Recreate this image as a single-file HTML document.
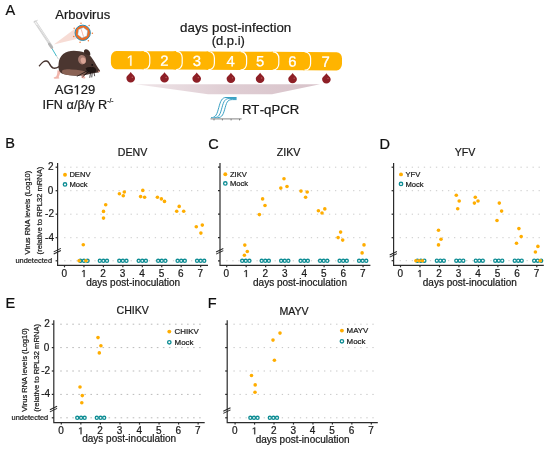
<!DOCTYPE html><html><head><meta charset="utf-8"><title>Figure</title>
<style>html,body{margin:0;padding:0;background:#fff;}svg{display:block;will-change:transform;}text{font-family:"Liberation Sans",sans-serif;}</style></head><body>
<svg width="550" height="450" viewBox="0 0 550 450" font-family="Liberation Sans, sans-serif">
<rect width="550" height="450" fill="#fff"/>
<text x="5.6" y="14.8" font-size="14.5" fill="#111" stroke="#111" stroke-width="0.22">A</text>
<text x="82.7" y="19.4" font-size="13" text-anchor="middle" fill="#1a1a1a" stroke="#1a1a1a" stroke-width="0.22">Arbovirus</text>
<text x="54.77" y="94.3" font-size="13" fill="#1a1a1a" stroke="#1a1a1a" stroke-width="0.22">AG</text>
<path d="M76.82 94.3 L76.82 86.45 L74.8 87.89 L74.8 86.81 L76.91 85.36 L77.97 85.36 L77.97 94.3Z" fill="#1a1a1a" stroke="#1a1a1a" stroke-width="0.22"/>
<text x="80.78" y="94.3" font-size="13" fill="#1a1a1a" stroke="#1a1a1a" stroke-width="0.22">29</text>
<text x="42.6" y="108.5" font-size="12.7" fill="#1a1a1a" stroke="#1a1a1a" stroke-width="0.22">IFN &#945;/&#946;/&#947; R<tspan font-size="6.4" dy="-5.4">-/-</tspan></text>
<text x="180.1" y="31.7" font-size="13.2" textLength="111.2" lengthAdjust="spacingAndGlyphs" fill="#1a1a1a" stroke="#1a1a1a" stroke-width="0.22">days post-infection</text>
<text x="228.3" y="45" font-size="13" text-anchor="middle" fill="#1a1a1a" stroke="#1a1a1a" stroke-width="0.22">(d.p.i)</text>
<defs><linearGradient id="fg" x1="0" y1="0" x2="1" y2="0"><stop offset="0" stop-color="#efe5e8"/><stop offset="0.5" stop-color="#dfcdd3"/><stop offset="1" stop-color="#d8c3ca"/></linearGradient></defs>
<polygon points="136,84.3 320,84.3 272,94.3 208,94.3" fill="url(#fg)"/>
<g transform="rotate(0.3 111 60)">
<rect x="298.6" y="51.0" width="43.4" height="18.2" rx="5.4" ry="6.4" fill="#FFB400"/>
<rect x="266.8" y="51.0" width="43.8" height="18.2" rx="5.4" ry="6.4" fill="#FFB400"/>
<path d="M305.2 50.5 V51 A5.4 6.4 0 0 1 310.6 57.4 V62.8 A5.4 6.4 0 0 1 305.2 69.2 V69.7" fill="none" stroke="#fff" stroke-width="1.2"/>
<rect x="234.6" y="51.0" width="44.2" height="18.2" rx="5.4" ry="6.4" fill="#FFB400"/>
<path d="M273.4 50.5 V51 A5.4 6.4 0 0 1 278.8 57.4 V62.8 A5.4 6.4 0 0 1 273.4 69.2 V69.7" fill="none" stroke="#fff" stroke-width="1.2"/>
<rect x="202.4" y="51.0" width="44.2" height="18.2" rx="5.4" ry="6.4" fill="#FFB400"/>
<path d="M241.2 50.5 V51 A5.4 6.4 0 0 1 246.6 57.4 V62.8 A5.4 6.4 0 0 1 241.2 69.2 V69.7" fill="none" stroke="#fff" stroke-width="1.2"/>
<rect x="170.2" y="51.0" width="44.2" height="18.2" rx="5.4" ry="6.4" fill="#FFB400"/>
<path d="M209 50.5 V51 A5.4 6.4 0 0 1 214.4 57.4 V62.8 A5.4 6.4 0 0 1 209 69.2 V69.7" fill="none" stroke="#fff" stroke-width="1.2"/>
<rect x="137.8" y="51.0" width="44.4" height="18.2" rx="5.4" ry="6.4" fill="#FFB400"/>
<path d="M176.8 50.5 V51 A5.4 6.4 0 0 1 182.2 57.4 V62.8 A5.4 6.4 0 0 1 176.8 69.2 V69.7" fill="none" stroke="#fff" stroke-width="1.2"/>
<rect x="110.9" y="51.0" width="38.9" height="18.2" rx="5.4" ry="6.4" fill="#FFB400"/>
<path d="M144.4 50.5 V51 A5.4 6.4 0 0 1 149.8 57.4 V62.8 A5.4 6.4 0 0 1 144.4 69.2 V69.7" fill="none" stroke="#fff" stroke-width="1.2"/>
<path d="M130.21 65.6 L130.21 56.66 L127.91 58.3 L127.91 57.07 L130.31 55.42 L131.51 55.42 L131.51 65.6Z" fill="#fff" stroke="#fff" stroke-width="0.22"/>
<text x="164.5" y="65.6" font-size="14.8" text-anchor="middle" fill="#fff" stroke="#fff" stroke-width="0.3">2</text>
<text x="196.8" y="65.6" font-size="14.8" text-anchor="middle" fill="#fff" stroke="#fff" stroke-width="0.3">3</text>
<text x="230.7" y="65.6" font-size="14.8" text-anchor="middle" fill="#fff" stroke="#fff" stroke-width="0.3">4</text>
<text x="260.1" y="65.6" font-size="14.8" text-anchor="middle" fill="#fff" stroke="#fff" stroke-width="0.3">5</text>
<text x="292.4" y="65.6" font-size="14.8" text-anchor="middle" fill="#fff" stroke="#fff" stroke-width="0.3">6</text>
<text x="325.6" y="65.6" font-size="14.8" text-anchor="middle" fill="#fff" stroke="#fff" stroke-width="0.3">7</text>
<path d="M130.8 72.0 C131.4 73.6 135.10000000000002 75.6 135.10000000000002 78.0 A4.3 4.3 0 0 1 126.5 78.0 C126.5 75.6 130.2 73.6 130.8 72.0Z" fill="#8E1F26"/>
<circle cx="132.4" cy="77.2" r="0.7" fill="#c77" opacity="0.7"/>
<path d="M164.6 72.0 C165.2 73.6 168.9 75.6 168.9 78.0 A4.3 4.3 0 0 1 160.3 78.0 C160.3 75.6 164 73.6 164.6 72.0Z" fill="#8E1F26"/>
<circle cx="166.2" cy="77.2" r="0.7" fill="#c77" opacity="0.7"/>
<path d="M196.8 72.0 C197.4 73.6 201.10000000000002 75.6 201.10000000000002 78.0 A4.3 4.3 0 0 1 192.5 78.0 C192.5 75.6 196.2 73.6 196.8 72.0Z" fill="#8E1F26"/>
<circle cx="198.4" cy="77.2" r="0.7" fill="#c77" opacity="0.7"/>
<path d="M231.0 72.0 C231.6 73.6 235.3 75.6 235.3 78.0 A4.3 4.3 0 0 1 226.7 78.0 C226.7 75.6 230.4 73.6 231.0 72.0Z" fill="#8E1F26"/>
<circle cx="232.6" cy="77.2" r="0.7" fill="#c77" opacity="0.7"/>
<path d="M260.2 72.0 C260.8 73.6 264.5 75.6 264.5 78.0 A4.3 4.3 0 0 1 255.9 78.0 C255.9 75.6 259.6 73.6 260.2 72.0Z" fill="#8E1F26"/>
<circle cx="261.8" cy="77.2" r="0.7" fill="#c77" opacity="0.7"/>
<path d="M292.7 72.0 C293.3 73.6 297.0 75.6 297.0 78.0 A4.3 4.3 0 0 1 288.4 78.0 C288.4 75.6 292.1 73.6 292.7 72.0Z" fill="#8E1F26"/>
<circle cx="294.3" cy="77.2" r="0.7" fill="#c77" opacity="0.7"/>
<path d="M326.5 72.0 C327.1 73.6 330.8 75.6 330.8 78.0 A4.3 4.3 0 0 1 322.2 78.0 C322.2 75.6 325.9 73.6 326.5 72.0Z" fill="#8E1F26"/>
<circle cx="328.1" cy="77.2" r="0.7" fill="#c77" opacity="0.7"/>
</g>
<g fill="none" stroke="#2F9BC0" stroke-width="0.95">
<path d="M211 117.7 C216 117.7 217 114 218.8 107.5 C220.5 101 222 97.5 226 97.5 H236.6"/>
<path d="M214.2 117.7 C219.2 117.7 220.2 114 222 107.5 C223.7 101 225.2 98.55 229.2 98.55 H236.6"/>
<path d="M217.4 117.7 C222.4 117.7 223.4 114 225.2 107.5 C226.9 101 228.4 99.6 232.4 99.6 H236.6"/>
</g>
<path d="M210.5 118.9 H241.6 M214 118.9 v1.5 M222.4 118.9 v1.5 M231.1 118.9 v1.5 M239.5 118.9 v1.5" stroke="#666" stroke-width="0.8" fill="none"/>
<text x="242.0" y="114.3" font-size="13.2" fill="#1a1a1a" stroke="#1a1a1a" stroke-width="0.22">RT<tspan dx="1.1">-qPCR</tspan></text>
<g stroke-linecap="round">
<line x1="35.2" y1="21.8" x2="51.4" y2="46.2" stroke="#d3d3d3" stroke-width="2.7"/>
<line x1="35.4" y1="22.2" x2="51.2" y2="45.9" stroke="#f2f2f2" stroke-width="1.3"/>
<line x1="37.2" y1="25.4" x2="50.6" y2="45.2" stroke="#bcbcbc" stroke-width="0.55"/>
<line x1="33.9" y1="21.9" x2="37.3" y2="20.4" stroke="#d0d0d0" stroke-width="0.9"/>
<line x1="49.3" y1="43.9" x2="51.9" y2="47.7" stroke="#b4b4b4" stroke-width="2.7"/>
<line x1="52.4" y1="49.2" x2="56.2" y2="55.6" stroke="#35b6c6" stroke-width="0.95"/>
<line x1="56.2" y1="55.6" x2="58.2" y2="58.8" stroke="#9aa" stroke-width="0.5"/>
</g>
<polygon points="53.8,44.5 76.6,27.4 77.6,38.8" fill="#f4cdc3" opacity="0.7"/>
<circle cx="81.02" cy="23.25" r="0.75" fill="#F27B35"/>
<circle cx="89.12" cy="25.53" r="0.75" fill="#F27B35"/>
<circle cx="92.39" cy="33.28" r="0.75" fill="#F27B35"/>
<circle cx="88.36" cy="40.68" r="0.75" fill="#F27B35"/>
<circle cx="80.07" cy="42.14" r="0.75" fill="#F27B35"/>
<circle cx="73.76" cy="36.57" r="0.75" fill="#F27B35"/>
<circle cx="74.18" cy="28.16" r="0.75" fill="#F27B35"/>
<circle cx="82.7" cy="32.8" r="7.65" fill="#F26A21" stroke="#2a8fb5" stroke-width="1.0"/>
<polygon points="83.44,27.55 87.61,30.81 86.88,36.06 81.96,38.05 77.79,34.79 78.52,29.54" fill="#fff" stroke="#5aa9c8" stroke-width="0.4"/>
<path d="M81.2 29.2 Q82.5 33.4 83.5 36.7" stroke="#f29a80" stroke-width="0.7" fill="none"/>
<path d="M59.2 66.6 C57.5 67.6 55.8 68.6 53.6 68.2 C51.2 67.8 50.2 65.2 48.8 62.6 C47.6 60.6 45.2 60.6 43.4 61.8 C41.8 62.9 40.6 64.4 39.4 65.8" fill="none" stroke="#45322d" stroke-width="1.35" stroke-linecap="round"/>
<path d="M57.4 70.2 C57.6 72.6 57 75 56.2 76.6 L53.8 77.6 C53.4 78.3 54 78.9 55 78.8 L59.2 78.6 C59.6 78 59.2 77.4 58.6 77.2 C59.4 75.4 60.4 73 61 70.8 Z" fill="#f1b5ab"/>
<path d="M81.2 74 C81.4 75.6 81.6 76.6 81.2 77.6 C81.8 78.4 83.6 78.6 85.2 78.2 C85.6 77.4 85 76.8 84.4 76.6 C84.6 75.6 84.8 74.8 85 74 Z" fill="#f1b5ab"/>
<path d="M58.6 63.4 C58.8 59.6 60.4 56.2 63.2 53.9 C66.2 51.6 70 50.8 73.8 50.7 C77.8 50.7 81.4 51.4 84.4 52.6 C87.2 53.6 89.6 55 91.2 57 C93.4 59.8 95 62.6 96.6 65.4 C97.8 67.4 99 69.2 100 70.6 C100.2 71.6 99.4 72.3 98.2 72.6 C96 73 93.8 73.2 91.6 73.6 C89 74.2 86.6 74.8 84 75.2 C80.4 75.8 76.6 75.8 72.8 75.4 C68.6 75 64.6 74.6 61.8 73.4 C59.8 72.4 58.8 70.4 58.5 68 C58.4 66.4 58.4 64.8 58.6 63.4 Z" fill="#4b3630"/>
<path d="M62.2 70.4 C64.6 69.4 67.8 69.2 71 69.4 C74.6 69.6 78 69.8 81.2 70.4 C83.4 70.8 85.2 71.4 86.4 72.4 C85.4 73.8 83.4 74.8 81 75.2 C77.6 75.8 73.6 75.6 70 75.2 C66.4 74.8 63.8 74.2 62.6 73.2 C62 72.4 61.8 71.2 62.2 70.4 Z" fill="#8a6254"/>
<path d="M84.4 53.4 C83.6 51.6 83.8 49.9 85.2 49.4 C87.2 48.9 89.2 50.4 90 52.4 C90.4 53.6 90.4 54.8 90 55.6 C88.2 55.2 86 54.4 84.4 53.4 Z" fill="#3d2a25"/>
<ellipse cx="82.1" cy="59.7" rx="4.0" ry="4.7" transform="rotate(-12 82.1 59.7)" fill="#a87b70"/>
<ellipse cx="83.2" cy="60.6" rx="2.5" ry="3.2" transform="rotate(-12 83.2 60.6)" fill="#d9a496"/>
<circle cx="92.2" cy="64.9" r="0.95" fill="#141010"/>
<path d="M85.6 68.2 C87.4 67 89.6 66.8 91.4 67.2 C92.6 66.6 94.2 67 95.4 68.2 C96.4 69.2 96.4 70.6 95.8 71.8 C94 72.8 91.6 73 89.4 72.6 C88 72.2 86.6 70.6 85.6 68.2 Z" fill="#211714"/>
<path d="M98.2 70.8 C99.2 70.6 100.2 70.9 100.2 71.6 C99.8 72.3 98.8 72.5 98 72.1 Z" fill="#c98f84"/>
<path d="M88.2 70.4 L77.2 76.2 M89.2 71 L82.6 76.9 M90.6 72.4 L89.8 77.4 M92.2 72.6 L91.8 77 M94 72.6 L94.6 75.8" stroke="#151010" stroke-width="0.75" fill="none" stroke-linecap="round"/>
<line x1="64.15" y1="167.2" x2="205" y2="167.2" stroke="#cbcbcb" stroke-width="1" stroke-dasharray="1.3 4.74"/>
<line x1="64.15" y1="190.7" x2="205" y2="190.7" stroke="#cbcbcb" stroke-width="1" stroke-dasharray="1.3 4.74"/>
<line x1="64.15" y1="214.2" x2="205" y2="214.2" stroke="#cbcbcb" stroke-width="1" stroke-dasharray="1.3 4.74"/>
<line x1="64.15" y1="237.7" x2="205" y2="237.7" stroke="#cbcbcb" stroke-width="1" stroke-dasharray="1.3 4.74"/>
<line x1="64.15" y1="260.8" x2="205" y2="260.8" stroke="#cbcbcb" stroke-width="1" stroke-dasharray="1.3 4.74"/>
<path d="M57.6 163 V265.3 H208" fill="none" stroke="#2b2b2b" stroke-width="1.2"/>
<path d="M53.7 251.9 L60.9 248.4 M53.7 254 L60.9 250.5" stroke="#2b2b2b" stroke-width="1.05" fill="none"/>
<line x1="55.6" y1="167.2" x2="57.6" y2="167.2" stroke="#2b2b2b" stroke-width="1.2"/>
<line x1="55.6" y1="190.7" x2="57.6" y2="190.7" stroke="#2b2b2b" stroke-width="1.2"/>
<line x1="55.6" y1="214.2" x2="57.6" y2="214.2" stroke="#2b2b2b" stroke-width="1.2"/>
<line x1="55.6" y1="237.7" x2="57.6" y2="237.7" stroke="#2b2b2b" stroke-width="1.2"/>
<line x1="55.6" y1="260.8" x2="57.6" y2="260.8" stroke="#2b2b2b" stroke-width="1.2"/>
<line x1="64.5" y1="265.3" x2="64.5" y2="267.3" stroke="#2b2b2b" stroke-width="1.2"/>
<text x="64.2" y="277" font-size="10" text-anchor="middle" fill="#1a1a1a" stroke="#1a1a1a" stroke-width="0.22">0</text>
<line x1="83.95" y1="265.3" x2="83.95" y2="267.3" stroke="#2b2b2b" stroke-width="1.2"/>
<path d="M83.68 277 L83.68 270.96 L82.13 272.07 L82.13 271.24 L83.76 270.12 L84.57 270.12 L84.57 277Z" fill="#1a1a1a" stroke="#1a1a1a" stroke-width="0.22"/>
<line x1="103.4" y1="265.3" x2="103.4" y2="267.3" stroke="#2b2b2b" stroke-width="1.2"/>
<text x="103.1" y="277" font-size="10" text-anchor="middle" fill="#1a1a1a" stroke="#1a1a1a" stroke-width="0.22">2</text>
<line x1="122.85" y1="265.3" x2="122.85" y2="267.3" stroke="#2b2b2b" stroke-width="1.2"/>
<text x="122.55" y="277" font-size="10" text-anchor="middle" fill="#1a1a1a" stroke="#1a1a1a" stroke-width="0.22">3</text>
<line x1="142.3" y1="265.3" x2="142.3" y2="267.3" stroke="#2b2b2b" stroke-width="1.2"/>
<text x="142" y="277" font-size="10" text-anchor="middle" fill="#1a1a1a" stroke="#1a1a1a" stroke-width="0.22">4</text>
<line x1="161.75" y1="265.3" x2="161.75" y2="267.3" stroke="#2b2b2b" stroke-width="1.2"/>
<text x="161.45" y="277" font-size="10" text-anchor="middle" fill="#1a1a1a" stroke="#1a1a1a" stroke-width="0.22">5</text>
<line x1="181.2" y1="265.3" x2="181.2" y2="267.3" stroke="#2b2b2b" stroke-width="1.2"/>
<text x="180.9" y="277" font-size="10" text-anchor="middle" fill="#1a1a1a" stroke="#1a1a1a" stroke-width="0.22">6</text>
<line x1="200.65" y1="265.3" x2="200.65" y2="267.3" stroke="#2b2b2b" stroke-width="1.2"/>
<text x="200.35" y="277" font-size="10" text-anchor="middle" fill="#1a1a1a" stroke="#1a1a1a" stroke-width="0.22">7</text>
<text x="53.6" y="170.1" font-size="10" text-anchor="end" fill="#1a1a1a" stroke="#1a1a1a" stroke-width="0.22">2</text>
<text x="53.2" y="193.6" font-size="10" text-anchor="end" fill="#1a1a1a" stroke="#1a1a1a" stroke-width="0.22">0</text>
<text x="54" y="217.1" font-size="10" text-anchor="end" fill="#1a1a1a" stroke="#1a1a1a" stroke-width="0.22">-2</text>
<text x="54" y="240.6" font-size="10" text-anchor="end" fill="#1a1a1a" stroke="#1a1a1a" stroke-width="0.22">-4</text>
<text x="52" y="263.2" font-size="7.4" text-anchor="end" fill="#1a1a1a" stroke="#1a1a1a" stroke-width="0.22">undetected</text>
<text transform="translate(29.6 254.4) rotate(-90)" font-size="7.5" fill="#1a1a1a" stroke="#1a1a1a" stroke-width="0.22">Virus RNA levels (Log10)</text>
<text transform="translate(42.3 254.4) rotate(-90)" font-size="7.6" fill="#1a1a1a" stroke="#1a1a1a" stroke-width="0.22">(relative to RPL32 mRNA)</text>
<text x="133.2" y="285.9" font-size="10" text-anchor="middle" fill="#1a1a1a" stroke="#1a1a1a" stroke-width="0.22">days post-inoculation</text>
<text x="132.5" y="155.6" font-size="10.6" text-anchor="middle" fill="#1a1a1a" stroke="#1a1a1a" stroke-width="0.22">DENV</text>
<text x="5.3" y="148.1" font-size="14.5" fill="#111" stroke="#111" stroke-width="0.22">B</text>
<circle cx="65" cy="174.7" r="1.95" fill="#FFAD00"/>
<circle cx="65" cy="184.4" r="1.7" fill="#fff" stroke="#0E8D94" stroke-width="1.35"/>
<text x="69.4" y="177.4" font-size="7.6" fill="#1a1a1a" stroke="#1a1a1a" stroke-width="0.22">DENV</text>
<text x="69.4" y="187.1" font-size="7.6" fill="#1a1a1a" stroke="#1a1a1a" stroke-width="0.22">Mock</text>
<circle cx="80.35" cy="260.8" r="1.55" fill="#fff" stroke="#0E8D94" stroke-width="1.3"/>
<circle cx="83.95" cy="260.8" r="1.55" fill="#fff" stroke="#0E8D94" stroke-width="1.3"/>
<circle cx="87.55" cy="260.8" r="1.55" fill="#fff" stroke="#0E8D94" stroke-width="1.3"/>
<circle cx="99.8" cy="260.8" r="1.55" fill="#fff" stroke="#0E8D94" stroke-width="1.3"/>
<circle cx="103.4" cy="260.8" r="1.55" fill="#fff" stroke="#0E8D94" stroke-width="1.3"/>
<circle cx="107" cy="260.8" r="1.55" fill="#fff" stroke="#0E8D94" stroke-width="1.3"/>
<circle cx="119.25" cy="260.8" r="1.55" fill="#fff" stroke="#0E8D94" stroke-width="1.3"/>
<circle cx="122.85" cy="260.8" r="1.55" fill="#fff" stroke="#0E8D94" stroke-width="1.3"/>
<circle cx="126.45" cy="260.8" r="1.55" fill="#fff" stroke="#0E8D94" stroke-width="1.3"/>
<circle cx="138.7" cy="260.8" r="1.55" fill="#fff" stroke="#0E8D94" stroke-width="1.3"/>
<circle cx="142.3" cy="260.8" r="1.55" fill="#fff" stroke="#0E8D94" stroke-width="1.3"/>
<circle cx="145.9" cy="260.8" r="1.55" fill="#fff" stroke="#0E8D94" stroke-width="1.3"/>
<circle cx="158.15" cy="260.8" r="1.55" fill="#fff" stroke="#0E8D94" stroke-width="1.3"/>
<circle cx="161.75" cy="260.8" r="1.55" fill="#fff" stroke="#0E8D94" stroke-width="1.3"/>
<circle cx="165.35" cy="260.8" r="1.55" fill="#fff" stroke="#0E8D94" stroke-width="1.3"/>
<circle cx="177.6" cy="260.8" r="1.55" fill="#fff" stroke="#0E8D94" stroke-width="1.3"/>
<circle cx="181.2" cy="260.8" r="1.55" fill="#fff" stroke="#0E8D94" stroke-width="1.3"/>
<circle cx="184.8" cy="260.8" r="1.55" fill="#fff" stroke="#0E8D94" stroke-width="1.3"/>
<circle cx="197.05" cy="260.8" r="1.55" fill="#fff" stroke="#0E8D94" stroke-width="1.3"/>
<circle cx="200.65" cy="260.8" r="1.55" fill="#fff" stroke="#0E8D94" stroke-width="1.3"/>
<circle cx="204.25" cy="260.8" r="1.55" fill="#fff" stroke="#0E8D94" stroke-width="1.3"/>
<circle cx="79.1" cy="260.8" r="1.8" fill="#FFAD00"/>
<circle cx="85.9" cy="260.8" r="1.8" fill="#FFAD00"/>
<circle cx="83.3" cy="244.7" r="1.8" fill="#FFAD00"/>
<circle cx="105.7" cy="204.8" r="1.8" fill="#FFAD00"/>
<circle cx="103.5" cy="211.4" r="1.8" fill="#FFAD00"/>
<circle cx="103.5" cy="218.1" r="1.8" fill="#FFAD00"/>
<circle cx="119.4" cy="193.8" r="1.8" fill="#FFAD00"/>
<circle cx="124.3" cy="192" r="1.8" fill="#FFAD00"/>
<circle cx="123.3" cy="195.7" r="1.8" fill="#FFAD00"/>
<circle cx="142.8" cy="190.4" r="1.8" fill="#FFAD00"/>
<circle cx="140.6" cy="196.6" r="1.8" fill="#FFAD00"/>
<circle cx="144.6" cy="197.3" r="1.8" fill="#FFAD00"/>
<circle cx="157.4" cy="197.3" r="1.8" fill="#FFAD00"/>
<circle cx="161.4" cy="198.9" r="1.8" fill="#FFAD00"/>
<circle cx="164.5" cy="201.4" r="1.8" fill="#FFAD00"/>
<circle cx="179.2" cy="206.4" r="1.8" fill="#FFAD00"/>
<circle cx="176.7" cy="211.2" r="1.8" fill="#FFAD00"/>
<circle cx="183.7" cy="211.2" r="1.8" fill="#FFAD00"/>
<circle cx="196.3" cy="226.8" r="1.8" fill="#FFAD00"/>
<circle cx="202.3" cy="225.1" r="1.8" fill="#FFAD00"/>
<circle cx="200.9" cy="233.1" r="1.8" fill="#FFAD00"/>
<line x1="226.25" y1="167.2" x2="367" y2="167.2" stroke="#cbcbcb" stroke-width="1" stroke-dasharray="1.3 4.74"/>
<line x1="226.25" y1="190.7" x2="367" y2="190.7" stroke="#cbcbcb" stroke-width="1" stroke-dasharray="1.3 4.74"/>
<line x1="226.25" y1="214.2" x2="367" y2="214.2" stroke="#cbcbcb" stroke-width="1" stroke-dasharray="1.3 4.74"/>
<line x1="226.25" y1="237.7" x2="367" y2="237.7" stroke="#cbcbcb" stroke-width="1" stroke-dasharray="1.3 4.74"/>
<line x1="226.25" y1="260.8" x2="367" y2="260.8" stroke="#cbcbcb" stroke-width="1" stroke-dasharray="1.3 4.74"/>
<path d="M220 163 V265.3 H370.4" fill="none" stroke="#2b2b2b" stroke-width="1.2"/>
<path d="M216.1 252 L223.3 248.5 M216.1 254.1 L223.3 250.6" stroke="#2b2b2b" stroke-width="1.05" fill="none"/>
<line x1="218" y1="167.2" x2="220" y2="167.2" stroke="#2b2b2b" stroke-width="1.2"/>
<line x1="218" y1="190.7" x2="220" y2="190.7" stroke="#2b2b2b" stroke-width="1.2"/>
<line x1="218" y1="214.2" x2="220" y2="214.2" stroke="#2b2b2b" stroke-width="1.2"/>
<line x1="218" y1="237.7" x2="220" y2="237.7" stroke="#2b2b2b" stroke-width="1.2"/>
<line x1="218" y1="260.8" x2="220" y2="260.8" stroke="#2b2b2b" stroke-width="1.2"/>
<line x1="226.7" y1="265.3" x2="226.7" y2="267.3" stroke="#2b2b2b" stroke-width="1.2"/>
<text x="226.4" y="277" font-size="10" text-anchor="middle" fill="#1a1a1a" stroke="#1a1a1a" stroke-width="0.22">0</text>
<line x1="246.18" y1="265.3" x2="246.18" y2="267.3" stroke="#2b2b2b" stroke-width="1.2"/>
<path d="M245.91 277 L245.91 270.96 L244.36 272.07 L244.36 271.24 L245.99 270.12 L246.8 270.12 L246.8 277Z" fill="#1a1a1a" stroke="#1a1a1a" stroke-width="0.22"/>
<line x1="265.66" y1="265.3" x2="265.66" y2="267.3" stroke="#2b2b2b" stroke-width="1.2"/>
<text x="265.36" y="277" font-size="10" text-anchor="middle" fill="#1a1a1a" stroke="#1a1a1a" stroke-width="0.22">2</text>
<line x1="285.14" y1="265.3" x2="285.14" y2="267.3" stroke="#2b2b2b" stroke-width="1.2"/>
<text x="284.84" y="277" font-size="10" text-anchor="middle" fill="#1a1a1a" stroke="#1a1a1a" stroke-width="0.22">3</text>
<line x1="304.62" y1="265.3" x2="304.62" y2="267.3" stroke="#2b2b2b" stroke-width="1.2"/>
<text x="304.32" y="277" font-size="10" text-anchor="middle" fill="#1a1a1a" stroke="#1a1a1a" stroke-width="0.22">4</text>
<line x1="324.1" y1="265.3" x2="324.1" y2="267.3" stroke="#2b2b2b" stroke-width="1.2"/>
<text x="323.8" y="277" font-size="10" text-anchor="middle" fill="#1a1a1a" stroke="#1a1a1a" stroke-width="0.22">5</text>
<line x1="343.58" y1="265.3" x2="343.58" y2="267.3" stroke="#2b2b2b" stroke-width="1.2"/>
<text x="343.28" y="277" font-size="10" text-anchor="middle" fill="#1a1a1a" stroke="#1a1a1a" stroke-width="0.22">6</text>
<line x1="363.06" y1="265.3" x2="363.06" y2="267.3" stroke="#2b2b2b" stroke-width="1.2"/>
<text x="362.76" y="277" font-size="10" text-anchor="middle" fill="#1a1a1a" stroke="#1a1a1a" stroke-width="0.22">7</text>
<text x="300" y="285.9" font-size="10" text-anchor="middle" fill="#1a1a1a" stroke="#1a1a1a" stroke-width="0.22">days post-inoculation</text>
<text x="288.5" y="155.6" font-size="10.6" text-anchor="middle" fill="#1a1a1a" stroke="#1a1a1a" stroke-width="0.22">ZIKV</text>
<text x="208.2" y="148.6" font-size="14.5" fill="#111" stroke="#111" stroke-width="0.22">C</text>
<circle cx="225.3" cy="174.3" r="1.95" fill="#FFAD00"/>
<circle cx="225.3" cy="183.4" r="1.7" fill="#fff" stroke="#0E8D94" stroke-width="1.35"/>
<text x="229.9" y="177" font-size="7.6" fill="#1a1a1a" stroke="#1a1a1a" stroke-width="0.22">ZIKV</text>
<text x="229.9" y="186.1" font-size="7.6" fill="#1a1a1a" stroke="#1a1a1a" stroke-width="0.22">Mock</text>
<circle cx="242.18" cy="260.8" r="1.55" fill="#fff" stroke="#0E8D94" stroke-width="1.3"/>
<circle cx="245.78" cy="260.8" r="1.55" fill="#fff" stroke="#0E8D94" stroke-width="1.3"/>
<circle cx="249.38" cy="260.8" r="1.55" fill="#fff" stroke="#0E8D94" stroke-width="1.3"/>
<circle cx="261.66" cy="260.8" r="1.55" fill="#fff" stroke="#0E8D94" stroke-width="1.3"/>
<circle cx="265.26" cy="260.8" r="1.55" fill="#fff" stroke="#0E8D94" stroke-width="1.3"/>
<circle cx="268.86" cy="260.8" r="1.55" fill="#fff" stroke="#0E8D94" stroke-width="1.3"/>
<circle cx="281.14" cy="260.8" r="1.55" fill="#fff" stroke="#0E8D94" stroke-width="1.3"/>
<circle cx="284.74" cy="260.8" r="1.55" fill="#fff" stroke="#0E8D94" stroke-width="1.3"/>
<circle cx="288.34" cy="260.8" r="1.55" fill="#fff" stroke="#0E8D94" stroke-width="1.3"/>
<circle cx="300.62" cy="260.8" r="1.55" fill="#fff" stroke="#0E8D94" stroke-width="1.3"/>
<circle cx="304.22" cy="260.8" r="1.55" fill="#fff" stroke="#0E8D94" stroke-width="1.3"/>
<circle cx="307.82" cy="260.8" r="1.55" fill="#fff" stroke="#0E8D94" stroke-width="1.3"/>
<circle cx="320.1" cy="260.8" r="1.55" fill="#fff" stroke="#0E8D94" stroke-width="1.3"/>
<circle cx="323.7" cy="260.8" r="1.55" fill="#fff" stroke="#0E8D94" stroke-width="1.3"/>
<circle cx="327.3" cy="260.8" r="1.55" fill="#fff" stroke="#0E8D94" stroke-width="1.3"/>
<circle cx="339.58" cy="260.8" r="1.55" fill="#fff" stroke="#0E8D94" stroke-width="1.3"/>
<circle cx="343.18" cy="260.8" r="1.55" fill="#fff" stroke="#0E8D94" stroke-width="1.3"/>
<circle cx="346.78" cy="260.8" r="1.55" fill="#fff" stroke="#0E8D94" stroke-width="1.3"/>
<circle cx="359.06" cy="260.8" r="1.55" fill="#fff" stroke="#0E8D94" stroke-width="1.3"/>
<circle cx="362.66" cy="260.8" r="1.55" fill="#fff" stroke="#0E8D94" stroke-width="1.3"/>
<circle cx="366.26" cy="260.8" r="1.55" fill="#fff" stroke="#0E8D94" stroke-width="1.3"/>
<circle cx="244.8" cy="245.1" r="1.8" fill="#FFAD00"/>
<circle cx="247.3" cy="251.5" r="1.8" fill="#FFAD00"/>
<circle cx="244.4" cy="255.2" r="1.8" fill="#FFAD00"/>
<circle cx="262.6" cy="198.9" r="1.8" fill="#FFAD00"/>
<circle cx="265" cy="205.5" r="1.8" fill="#FFAD00"/>
<circle cx="259.4" cy="214.6" r="1.8" fill="#FFAD00"/>
<circle cx="284" cy="178.7" r="1.8" fill="#FFAD00"/>
<circle cx="280.8" cy="188.1" r="1.8" fill="#FFAD00"/>
<circle cx="287" cy="186.5" r="1.8" fill="#FFAD00"/>
<circle cx="301" cy="191.1" r="1.8" fill="#FFAD00"/>
<circle cx="307.2" cy="192" r="1.8" fill="#FFAD00"/>
<circle cx="305.6" cy="197.3" r="1.8" fill="#FFAD00"/>
<circle cx="318.4" cy="210.7" r="1.8" fill="#FFAD00"/>
<circle cx="322" cy="213" r="1.8" fill="#FFAD00"/>
<circle cx="324.8" cy="208.9" r="1.8" fill="#FFAD00"/>
<circle cx="340.6" cy="232.1" r="1.8" fill="#FFAD00"/>
<circle cx="338.1" cy="237.6" r="1.8" fill="#FFAD00"/>
<circle cx="342.7" cy="240.1" r="1.8" fill="#FFAD00"/>
<circle cx="364" cy="244.9" r="1.8" fill="#FFAD00"/>
<circle cx="362.1" cy="252.9" r="1.8" fill="#FFAD00"/>
<line x1="399.65" y1="167.2" x2="541.4" y2="167.2" stroke="#cbcbcb" stroke-width="1" stroke-dasharray="1.3 4.74"/>
<line x1="399.65" y1="190.7" x2="541.4" y2="190.7" stroke="#cbcbcb" stroke-width="1" stroke-dasharray="1.3 4.74"/>
<line x1="399.65" y1="214.2" x2="541.4" y2="214.2" stroke="#cbcbcb" stroke-width="1" stroke-dasharray="1.3 4.74"/>
<line x1="399.65" y1="237.7" x2="541.4" y2="237.7" stroke="#cbcbcb" stroke-width="1" stroke-dasharray="1.3 4.74"/>
<line x1="399.65" y1="260.7" x2="541.4" y2="260.7" stroke="#cbcbcb" stroke-width="1" stroke-dasharray="1.3 4.74"/>
<path d="M393.6 163 V265.3 H543.8" fill="none" stroke="#2b2b2b" stroke-width="1.2"/>
<path d="M389.7 255 L396.9 251.5 M389.7 257.1 L396.9 253.6" stroke="#2b2b2b" stroke-width="1.05" fill="none"/>
<line x1="391.6" y1="167.2" x2="393.6" y2="167.2" stroke="#2b2b2b" stroke-width="1.2"/>
<line x1="391.6" y1="190.7" x2="393.6" y2="190.7" stroke="#2b2b2b" stroke-width="1.2"/>
<line x1="391.6" y1="214.2" x2="393.6" y2="214.2" stroke="#2b2b2b" stroke-width="1.2"/>
<line x1="391.6" y1="237.7" x2="393.6" y2="237.7" stroke="#2b2b2b" stroke-width="1.2"/>
<line x1="391.6" y1="260.7" x2="393.6" y2="260.7" stroke="#2b2b2b" stroke-width="1.2"/>
<line x1="400.5" y1="265.3" x2="400.5" y2="267.3" stroke="#2b2b2b" stroke-width="1.2"/>
<text x="400.2" y="277" font-size="10" text-anchor="middle" fill="#1a1a1a" stroke="#1a1a1a" stroke-width="0.22">0</text>
<line x1="419.97" y1="265.3" x2="419.97" y2="267.3" stroke="#2b2b2b" stroke-width="1.2"/>
<path d="M419.7 277 L419.7 270.96 L418.15 272.07 L418.15 271.24 L419.78 270.12 L420.59 270.12 L420.59 277Z" fill="#1a1a1a" stroke="#1a1a1a" stroke-width="0.22"/>
<line x1="439.44" y1="265.3" x2="439.44" y2="267.3" stroke="#2b2b2b" stroke-width="1.2"/>
<text x="439.14" y="277" font-size="10" text-anchor="middle" fill="#1a1a1a" stroke="#1a1a1a" stroke-width="0.22">2</text>
<line x1="458.91" y1="265.3" x2="458.91" y2="267.3" stroke="#2b2b2b" stroke-width="1.2"/>
<text x="458.61" y="277" font-size="10" text-anchor="middle" fill="#1a1a1a" stroke="#1a1a1a" stroke-width="0.22">3</text>
<line x1="478.38" y1="265.3" x2="478.38" y2="267.3" stroke="#2b2b2b" stroke-width="1.2"/>
<text x="478.08" y="277" font-size="10" text-anchor="middle" fill="#1a1a1a" stroke="#1a1a1a" stroke-width="0.22">4</text>
<line x1="497.85" y1="265.3" x2="497.85" y2="267.3" stroke="#2b2b2b" stroke-width="1.2"/>
<text x="497.55" y="277" font-size="10" text-anchor="middle" fill="#1a1a1a" stroke="#1a1a1a" stroke-width="0.22">5</text>
<line x1="517.32" y1="265.3" x2="517.32" y2="267.3" stroke="#2b2b2b" stroke-width="1.2"/>
<text x="517.02" y="277" font-size="10" text-anchor="middle" fill="#1a1a1a" stroke="#1a1a1a" stroke-width="0.22">6</text>
<line x1="536.79" y1="265.3" x2="536.79" y2="267.3" stroke="#2b2b2b" stroke-width="1.2"/>
<text x="536.49" y="277" font-size="10" text-anchor="middle" fill="#1a1a1a" stroke="#1a1a1a" stroke-width="0.22">7</text>
<text x="469.8" y="285.9" font-size="10" text-anchor="middle" fill="#1a1a1a" stroke="#1a1a1a" stroke-width="0.22">days post-inoculation</text>
<text x="465" y="155.6" font-size="10.6" text-anchor="middle" fill="#1a1a1a" stroke="#1a1a1a" stroke-width="0.22">YFV</text>
<text x="379.5" y="148.5" font-size="14.5" fill="#111" stroke="#111" stroke-width="0.22">D</text>
<circle cx="401" cy="174.4" r="1.95" fill="#FFAD00"/>
<circle cx="401" cy="183.9" r="1.7" fill="#fff" stroke="#0E8D94" stroke-width="1.35"/>
<text x="405.5" y="177.1" font-size="7.6" fill="#1a1a1a" stroke="#1a1a1a" stroke-width="0.22">YFV</text>
<text x="405.5" y="186.6" font-size="7.6" fill="#1a1a1a" stroke="#1a1a1a" stroke-width="0.22">Mock</text>
<circle cx="417.37" cy="260.7" r="1.55" fill="#fff" stroke="#0E8D94" stroke-width="1.3"/>
<circle cx="420.87" cy="260.7" r="1.55" fill="#fff" stroke="#0E8D94" stroke-width="1.3"/>
<circle cx="424.37" cy="260.7" r="1.55" fill="#fff" stroke="#0E8D94" stroke-width="1.3"/>
<circle cx="436.84" cy="260.7" r="1.55" fill="#fff" stroke="#0E8D94" stroke-width="1.3"/>
<circle cx="440.34" cy="260.7" r="1.55" fill="#fff" stroke="#0E8D94" stroke-width="1.3"/>
<circle cx="443.84" cy="260.7" r="1.55" fill="#fff" stroke="#0E8D94" stroke-width="1.3"/>
<circle cx="456.31" cy="260.7" r="1.55" fill="#fff" stroke="#0E8D94" stroke-width="1.3"/>
<circle cx="459.81" cy="260.7" r="1.55" fill="#fff" stroke="#0E8D94" stroke-width="1.3"/>
<circle cx="463.31" cy="260.7" r="1.55" fill="#fff" stroke="#0E8D94" stroke-width="1.3"/>
<circle cx="475.78" cy="260.7" r="1.55" fill="#fff" stroke="#0E8D94" stroke-width="1.3"/>
<circle cx="479.28" cy="260.7" r="1.55" fill="#fff" stroke="#0E8D94" stroke-width="1.3"/>
<circle cx="482.78" cy="260.7" r="1.55" fill="#fff" stroke="#0E8D94" stroke-width="1.3"/>
<circle cx="495.25" cy="260.7" r="1.55" fill="#fff" stroke="#0E8D94" stroke-width="1.3"/>
<circle cx="498.75" cy="260.7" r="1.55" fill="#fff" stroke="#0E8D94" stroke-width="1.3"/>
<circle cx="502.25" cy="260.7" r="1.55" fill="#fff" stroke="#0E8D94" stroke-width="1.3"/>
<circle cx="514.72" cy="260.7" r="1.55" fill="#fff" stroke="#0E8D94" stroke-width="1.3"/>
<circle cx="518.22" cy="260.7" r="1.55" fill="#fff" stroke="#0E8D94" stroke-width="1.3"/>
<circle cx="521.72" cy="260.7" r="1.55" fill="#fff" stroke="#0E8D94" stroke-width="1.3"/>
<circle cx="534.19" cy="260.7" r="1.55" fill="#fff" stroke="#0E8D94" stroke-width="1.3"/>
<circle cx="537.69" cy="260.7" r="1.55" fill="#fff" stroke="#0E8D94" stroke-width="1.3"/>
<circle cx="541.19" cy="260.7" r="1.55" fill="#fff" stroke="#0E8D94" stroke-width="1.3"/>
<circle cx="415.9" cy="260.7" r="1.8" fill="#FFAD00"/>
<circle cx="419.1" cy="260.7" r="1.8" fill="#FFAD00"/>
<circle cx="422.4" cy="260.7" r="1.8" fill="#FFAD00"/>
<circle cx="438.5" cy="230.3" r="1.8" fill="#FFAD00"/>
<circle cx="441" cy="239.2" r="1.8" fill="#FFAD00"/>
<circle cx="438.5" cy="244.9" r="1.8" fill="#FFAD00"/>
<circle cx="456.3" cy="195.3" r="1.8" fill="#FFAD00"/>
<circle cx="459.2" cy="201" r="1.8" fill="#FFAD00"/>
<circle cx="457.7" cy="208.8" r="1.8" fill="#FFAD00"/>
<circle cx="475.3" cy="197.2" r="1.8" fill="#FFAD00"/>
<circle cx="478" cy="201" r="1.8" fill="#FFAD00"/>
<circle cx="474.4" cy="203.1" r="1.8" fill="#FFAD00"/>
<circle cx="499.3" cy="203.1" r="1.8" fill="#FFAD00"/>
<circle cx="501.6" cy="211.1" r="1.8" fill="#FFAD00"/>
<circle cx="497" cy="220.5" r="1.8" fill="#FFAD00"/>
<circle cx="518.9" cy="228.6" r="1.8" fill="#FFAD00"/>
<circle cx="521.2" cy="236.6" r="1.8" fill="#FFAD00"/>
<circle cx="516.5" cy="243.3" r="1.8" fill="#FFAD00"/>
<circle cx="537.9" cy="246.4" r="1.8" fill="#FFAD00"/>
<circle cx="535.4" cy="252" r="1.8" fill="#FFAD00"/>
<circle cx="540.3" cy="260.7" r="1.8" fill="#FFAD00"/>
<line x1="60.2" y1="324.2" x2="204.5" y2="324.2" stroke="#b9b9b9" stroke-width="1" stroke-dasharray="1.6 4.44"/>
<line x1="60.2" y1="347.6" x2="204.5" y2="347.6" stroke="#b9b9b9" stroke-width="1" stroke-dasharray="1.6 4.44"/>
<line x1="60.2" y1="371" x2="204.5" y2="371" stroke="#b9b9b9" stroke-width="1" stroke-dasharray="1.6 4.44"/>
<line x1="60.2" y1="394.4" x2="204.5" y2="394.4" stroke="#b9b9b9" stroke-width="1" stroke-dasharray="1.6 4.44"/>
<line x1="60.2" y1="417.8" x2="204.5" y2="417.8" stroke="#b9b9b9" stroke-width="1" stroke-dasharray="1.6 4.44"/>
<path d="M53.8 320.2 V422.6 H204.7" fill="none" stroke="#2b2b2b" stroke-width="1.2"/>
<path d="M49.9 409.8 L57.1 406.3 M49.9 411.9 L57.1 408.4" stroke="#2b2b2b" stroke-width="1.05" fill="none"/>
<line x1="51.8" y1="324.2" x2="53.8" y2="324.2" stroke="#2b2b2b" stroke-width="1.2"/>
<line x1="51.8" y1="347.6" x2="53.8" y2="347.6" stroke="#2b2b2b" stroke-width="1.2"/>
<line x1="51.8" y1="371" x2="53.8" y2="371" stroke="#2b2b2b" stroke-width="1.2"/>
<line x1="51.8" y1="394.4" x2="53.8" y2="394.4" stroke="#2b2b2b" stroke-width="1.2"/>
<line x1="51.8" y1="417.8" x2="53.8" y2="417.8" stroke="#2b2b2b" stroke-width="1.2"/>
<line x1="61.3" y1="422.6" x2="61.3" y2="424.6" stroke="#2b2b2b" stroke-width="1.2"/>
<text x="61" y="434.3" font-size="10" text-anchor="middle" fill="#1a1a1a" stroke="#1a1a1a" stroke-width="0.22">0</text>
<line x1="80.85" y1="422.6" x2="80.85" y2="424.6" stroke="#2b2b2b" stroke-width="1.2"/>
<path d="M80.58 434.3 L80.58 428.26 L79.03 429.37 L79.03 428.54 L80.66 427.42 L81.47 427.42 L81.47 434.3Z" fill="#1a1a1a" stroke="#1a1a1a" stroke-width="0.22"/>
<line x1="100.4" y1="422.6" x2="100.4" y2="424.6" stroke="#2b2b2b" stroke-width="1.2"/>
<text x="100.1" y="434.3" font-size="10" text-anchor="middle" fill="#1a1a1a" stroke="#1a1a1a" stroke-width="0.22">2</text>
<line x1="119.95" y1="422.6" x2="119.95" y2="424.6" stroke="#2b2b2b" stroke-width="1.2"/>
<text x="119.65" y="434.3" font-size="10" text-anchor="middle" fill="#1a1a1a" stroke="#1a1a1a" stroke-width="0.22">3</text>
<line x1="139.5" y1="422.6" x2="139.5" y2="424.6" stroke="#2b2b2b" stroke-width="1.2"/>
<text x="139.2" y="434.3" font-size="10" text-anchor="middle" fill="#1a1a1a" stroke="#1a1a1a" stroke-width="0.22">4</text>
<line x1="159.05" y1="422.6" x2="159.05" y2="424.6" stroke="#2b2b2b" stroke-width="1.2"/>
<text x="158.75" y="434.3" font-size="10" text-anchor="middle" fill="#1a1a1a" stroke="#1a1a1a" stroke-width="0.22">5</text>
<line x1="178.6" y1="422.6" x2="178.6" y2="424.6" stroke="#2b2b2b" stroke-width="1.2"/>
<text x="178.3" y="434.3" font-size="10" text-anchor="middle" fill="#1a1a1a" stroke="#1a1a1a" stroke-width="0.22">6</text>
<line x1="198.15" y1="422.6" x2="198.15" y2="424.6" stroke="#2b2b2b" stroke-width="1.2"/>
<text x="197.85" y="434.3" font-size="10" text-anchor="middle" fill="#1a1a1a" stroke="#1a1a1a" stroke-width="0.22">7</text>
<text x="49.8" y="327.1" font-size="10" text-anchor="end" fill="#1a1a1a" stroke="#1a1a1a" stroke-width="0.22">2</text>
<text x="49.4" y="350.5" font-size="10" text-anchor="end" fill="#1a1a1a" stroke="#1a1a1a" stroke-width="0.22">0</text>
<text x="50.2" y="373.9" font-size="10" text-anchor="end" fill="#1a1a1a" stroke="#1a1a1a" stroke-width="0.22">-2</text>
<text x="50.2" y="397.3" font-size="10" text-anchor="end" fill="#1a1a1a" stroke="#1a1a1a" stroke-width="0.22">-4</text>
<text x="48.2" y="420.2" font-size="7.4" text-anchor="end" fill="#1a1a1a" stroke="#1a1a1a" stroke-width="0.22">undetected</text>
<text transform="translate(27.4 411.8) rotate(-90)" font-size="7.5" fill="#1a1a1a" stroke="#1a1a1a" stroke-width="0.22">Virus RNA levels (Log10)</text>
<text transform="translate(39.1 411.8) rotate(-90)" font-size="7.6" fill="#1a1a1a" stroke="#1a1a1a" stroke-width="0.22">(relative to RPL32 mRNA)</text>
<text x="129.2" y="442.3" font-size="10" text-anchor="middle" fill="#1a1a1a" stroke="#1a1a1a" stroke-width="0.22">days post-inoculation</text>
<text x="132.7" y="314.4" font-size="10.6" text-anchor="middle" fill="#1a1a1a" stroke="#1a1a1a" stroke-width="0.22">CHIKV</text>
<text x="5.6" y="307.6" font-size="14.5" fill="#111" stroke="#111" stroke-width="0.22">E</text>
<circle cx="169.3" cy="331.6" r="1.95" fill="#FFAD00"/>
<circle cx="169.3" cy="342.3" r="1.7" fill="#fff" stroke="#0E8D94" stroke-width="1.35"/>
<text x="174.6" y="334.3" font-size="7.9" fill="#1a1a1a" stroke="#1a1a1a" stroke-width="0.22">CHIKV</text>
<text x="174.6" y="345" font-size="7.9" fill="#1a1a1a" stroke="#1a1a1a" stroke-width="0.22">Mock</text>
<circle cx="77.25" cy="417.8" r="1.55" fill="#fff" stroke="#0E8D94" stroke-width="1.3"/>
<circle cx="81.05" cy="417.8" r="1.55" fill="#fff" stroke="#0E8D94" stroke-width="1.3"/>
<circle cx="84.65" cy="417.8" r="1.55" fill="#fff" stroke="#0E8D94" stroke-width="1.3"/>
<circle cx="96.8" cy="417.8" r="1.55" fill="#fff" stroke="#0E8D94" stroke-width="1.3"/>
<circle cx="100.6" cy="417.8" r="1.55" fill="#fff" stroke="#0E8D94" stroke-width="1.3"/>
<circle cx="104.2" cy="417.8" r="1.55" fill="#fff" stroke="#0E8D94" stroke-width="1.3"/>
<circle cx="80" cy="387" r="1.8" fill="#FFAD00"/>
<circle cx="82.3" cy="395.6" r="1.8" fill="#FFAD00"/>
<circle cx="81.8" cy="402.7" r="1.8" fill="#FFAD00"/>
<circle cx="98" cy="337.6" r="1.8" fill="#FFAD00"/>
<circle cx="100.9" cy="345.7" r="1.8" fill="#FFAD00"/>
<circle cx="99.3" cy="352.9" r="1.8" fill="#FFAD00"/>
<line x1="233.45" y1="324.2" x2="374.5" y2="324.2" stroke="#c4c4c4" stroke-width="1" stroke-dasharray="1.3 4.74"/>
<line x1="233.45" y1="347.6" x2="374.5" y2="347.6" stroke="#c4c4c4" stroke-width="1" stroke-dasharray="1.3 4.74"/>
<line x1="233.45" y1="371" x2="374.5" y2="371" stroke="#c4c4c4" stroke-width="1" stroke-dasharray="1.3 4.74"/>
<line x1="233.45" y1="394.4" x2="374.5" y2="394.4" stroke="#c4c4c4" stroke-width="1" stroke-dasharray="1.3 4.74"/>
<line x1="233.45" y1="417.8" x2="374.5" y2="417.8" stroke="#c4c4c4" stroke-width="1" stroke-dasharray="1.3 4.74"/>
<path d="M227.2 320.2 V422.6 H377.8" fill="none" stroke="#2b2b2b" stroke-width="1.2"/>
<path d="M223.3 411.3 L230.5 407.8 M223.3 413.4 L230.5 409.9" stroke="#2b2b2b" stroke-width="1.05" fill="none"/>
<line x1="225.2" y1="324.2" x2="227.2" y2="324.2" stroke="#2b2b2b" stroke-width="1.2"/>
<line x1="225.2" y1="347.6" x2="227.2" y2="347.6" stroke="#2b2b2b" stroke-width="1.2"/>
<line x1="225.2" y1="371" x2="227.2" y2="371" stroke="#2b2b2b" stroke-width="1.2"/>
<line x1="225.2" y1="394.4" x2="227.2" y2="394.4" stroke="#2b2b2b" stroke-width="1.2"/>
<line x1="225.2" y1="417.8" x2="227.2" y2="417.8" stroke="#2b2b2b" stroke-width="1.2"/>
<line x1="235.1" y1="422.6" x2="235.1" y2="424.6" stroke="#2b2b2b" stroke-width="1.2"/>
<text x="234.8" y="434.3" font-size="10" text-anchor="middle" fill="#1a1a1a" stroke="#1a1a1a" stroke-width="0.22">0</text>
<line x1="254.56" y1="422.6" x2="254.56" y2="424.6" stroke="#2b2b2b" stroke-width="1.2"/>
<path d="M254.29 434.3 L254.29 428.26 L252.74 429.37 L252.74 428.54 L254.37 427.42 L255.18 427.42 L255.18 434.3Z" fill="#1a1a1a" stroke="#1a1a1a" stroke-width="0.22"/>
<line x1="274.02" y1="422.6" x2="274.02" y2="424.6" stroke="#2b2b2b" stroke-width="1.2"/>
<text x="273.72" y="434.3" font-size="10" text-anchor="middle" fill="#1a1a1a" stroke="#1a1a1a" stroke-width="0.22">2</text>
<line x1="293.48" y1="422.6" x2="293.48" y2="424.6" stroke="#2b2b2b" stroke-width="1.2"/>
<text x="293.18" y="434.3" font-size="10" text-anchor="middle" fill="#1a1a1a" stroke="#1a1a1a" stroke-width="0.22">3</text>
<line x1="312.94" y1="422.6" x2="312.94" y2="424.6" stroke="#2b2b2b" stroke-width="1.2"/>
<text x="312.64" y="434.3" font-size="10" text-anchor="middle" fill="#1a1a1a" stroke="#1a1a1a" stroke-width="0.22">4</text>
<line x1="332.4" y1="422.6" x2="332.4" y2="424.6" stroke="#2b2b2b" stroke-width="1.2"/>
<text x="332.1" y="434.3" font-size="10" text-anchor="middle" fill="#1a1a1a" stroke="#1a1a1a" stroke-width="0.22">5</text>
<line x1="351.86" y1="422.6" x2="351.86" y2="424.6" stroke="#2b2b2b" stroke-width="1.2"/>
<text x="351.56" y="434.3" font-size="10" text-anchor="middle" fill="#1a1a1a" stroke="#1a1a1a" stroke-width="0.22">6</text>
<line x1="371.32" y1="422.6" x2="371.32" y2="424.6" stroke="#2b2b2b" stroke-width="1.2"/>
<text x="371.02" y="434.3" font-size="10" text-anchor="middle" fill="#1a1a1a" stroke="#1a1a1a" stroke-width="0.22">7</text>
<text x="302.7" y="442.9" font-size="10" text-anchor="middle" fill="#1a1a1a" stroke="#1a1a1a" stroke-width="0.22">days post-inoculation</text>
<text x="294" y="314.6" font-size="10.6" text-anchor="middle" fill="#1a1a1a" stroke="#1a1a1a" stroke-width="0.22">MAYV</text>
<text x="207.7" y="307.6" font-size="14.5" fill="#111" stroke="#111" stroke-width="0.22">F</text>
<circle cx="341.9" cy="330.6" r="1.95" fill="#FFAD00"/>
<circle cx="341.9" cy="341.3" r="1.7" fill="#fff" stroke="#0E8D94" stroke-width="1.35"/>
<text x="346.6" y="333.3" font-size="7.9" fill="#1a1a1a" stroke="#1a1a1a" stroke-width="0.22">MAYV</text>
<text x="346.6" y="344" font-size="7.9" fill="#1a1a1a" stroke="#1a1a1a" stroke-width="0.22">Mock</text>
<circle cx="250.36" cy="417.8" r="1.55" fill="#fff" stroke="#0E8D94" stroke-width="1.3"/>
<circle cx="253.96" cy="417.8" r="1.55" fill="#fff" stroke="#0E8D94" stroke-width="1.3"/>
<circle cx="257.56" cy="417.8" r="1.55" fill="#fff" stroke="#0E8D94" stroke-width="1.3"/>
<circle cx="269.82" cy="417.8" r="1.55" fill="#fff" stroke="#0E8D94" stroke-width="1.3"/>
<circle cx="273.42" cy="417.8" r="1.55" fill="#fff" stroke="#0E8D94" stroke-width="1.3"/>
<circle cx="277.02" cy="417.8" r="1.55" fill="#fff" stroke="#0E8D94" stroke-width="1.3"/>
<circle cx="251.5" cy="375.5" r="1.8" fill="#FFAD00"/>
<circle cx="255.2" cy="384.9" r="1.8" fill="#FFAD00"/>
<circle cx="255" cy="392.2" r="1.8" fill="#FFAD00"/>
<circle cx="280" cy="333.1" r="1.8" fill="#FFAD00"/>
<circle cx="273" cy="340.1" r="1.8" fill="#FFAD00"/>
<circle cx="274.4" cy="360.2" r="1.8" fill="#FFAD00"/>
</svg></body></html>
